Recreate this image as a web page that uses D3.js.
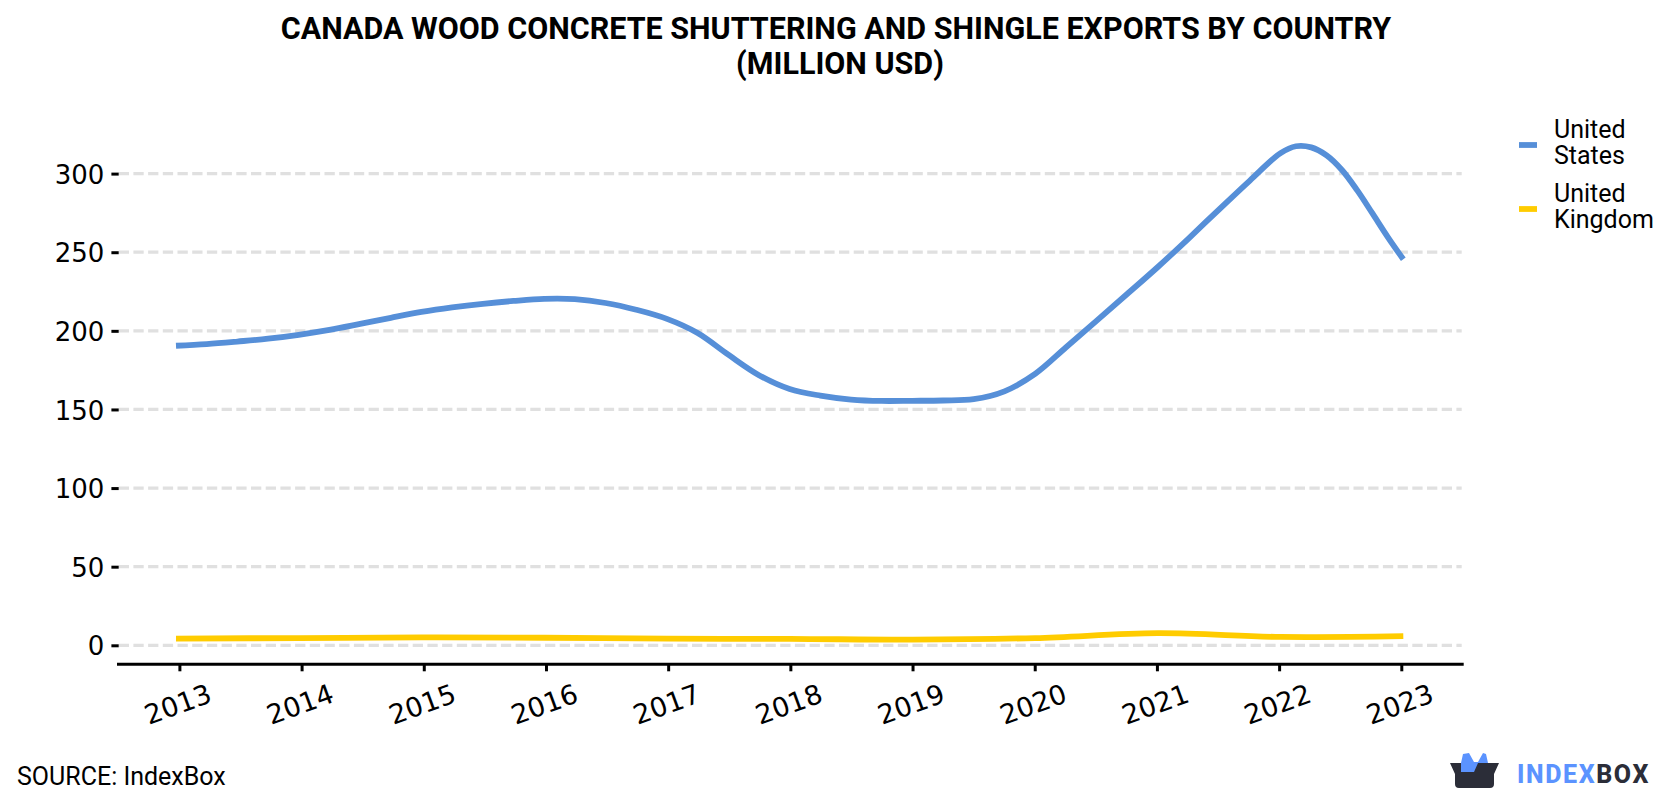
<!DOCTYPE html>
<html><head><meta charset="utf-8">
<script src="https://cdn.jsdelivr.net/npm/d3@7/dist/d3.min.js"></script>
<style>
html,body{margin:0;padding:0;background:#fff}
svg{display:block}
text{fill:#000}
</style></head><body>
<svg id="chart" width="1680" height="800"></svg>
<script>
// Export values, million USD
const years = [2013,2014,2015,2016,2017,2018,2019,2020,2021,2022,2023];
const usPositions = [2013,2013.25,2013.5,2013.75,2014,2014.25,2014.5,2014.75,2015,2015.25,2015.5,2015.75,
  2016,2016.25,2016.5,2016.75,2017,2017.25,2017.5,2017.75,2018,2018.25,2018.5,2018.75,
  2019,2019.25,2019.5,2019.75,2020,2020.25,2020.5,2020.75,2021,2021.25,2021.5,2021.75,
  2022,2022.125,2022.25,2022.375,2022.5,2022.625,2022.75,2022.875,2023];
const unitedStates = [190.5,191.6,193.2,195,197.5,200.6,204.4,208.3,212,214.9,217.2,219,
  220.3,220.1,217.7,213.4,207.6,198.6,184.8,171.8,163,158.8,156.3,155.4,
  155.5,155.7,156.5,161.5,172.6,189.4,206.3,223.4,240.6,258.7,277.3,295.6,
  313,317.4,316.7,311.6,302.3,289.3,274.5,259.5,245.5];
const ukPositions = years;
const unitedKingdom = [4.3,4.6,5,4.8,4.2,4.1,3.6,4.6,7.7,5.3,5.8];
const yTicks = [0,50,100,150,200,250,300];
const seriesNames = [["United","States"],["United","Kingdom"]];
const seriesColors = ["#568fd8","#ffcc00"];
const titleLines = [["CANADA WOOD CONCRETE SHUTTERING AND SHINGLE EXPORTS BY COUNTRY",836],["(MILLION USD)",840]];

const svg = d3.select("#chart");
const x = d3.scaleLinear().domain([2013,2023]).range([179.4,1401.3]);
const lineX = d3.scaleLinear().domain([2013,2023]).range([176,1403.3]);
const y = d3.scaleLinear().domain([0,300]).range([645.3,173.6]);
const axisY = 664.3, plotLeft = 118.7, axisLeft = 117, gridRight = 1461.7, axisRight = 1463.7;

// Title
svg.append("g").selectAll("text").data(titleLines).join("text")
  .attr("x",d=>d[1]).attr("y",(d,i)=>39+i*35)
  .attr("text-anchor","middle")
  .style("font","700 30.5px Roboto")
  .text(d=>d[0]);

// Dashed gridlines
svg.append("g").selectAll("line").data(yTicks).join("line")
  .attr("x1",plotLeft).attr("x2",gridRight)
  .attr("y1",d=>y(d)).attr("y2",d=>y(d))
  .attr("stroke","#e0e0e0").attr("stroke-width",3.2).attr("stroke-dasharray","10.3 4.4");

// Y axis: ticks and labels only
const gy = svg.append("g").attr("transform",`translate(${plotLeft},0)`)
  .call(d3.axisLeft(y).tickValues(yTicks).tickSize(7.3).tickPadding(7).tickFormat(d3.format("d")));
gy.select(".domain").remove();
gy.selectAll("line").attr("stroke","#000").attr("stroke-width",3);
gy.selectAll("text").style("font","26px 'DejaVu Sans'").attr("fill","#000").attr("dy","0.37em");

// X axis with slanted year labels
const gx = svg.append("g").attr("transform",`translate(0,${axisY})`)
  .call(d3.axisBottom(x).tickValues(years).tickSize(7).tickFormat(d3.format("d")));
gx.select(".domain").attr("d",`M${axisLeft},0H${axisRight}`).attr("stroke","#000").attr("stroke-width",3);
gx.selectAll("line").attr("stroke","#000").attr("stroke-width",3);
gx.selectAll("text")
  .style("font","27px 'DejaVu Sans'").attr("fill","#000")
  .attr("text-anchor","middle")
  .attr("transform",d=>`translate(-2,40) rotate(-20)`).attr("y",0).attr("dy","0.35em");

// Series lines
const line = d3.line().x(d=>lineX(d[0])).y(d=>y(d[1])).curve(d3.curveCatmullRom.alpha(0.5));
const seriesData = [d3.zip(usPositions,unitedStates), d3.zip(ukPositions,unitedKingdom)];
svg.append("g").selectAll("path").data(seriesData).join("path")
  .attr("d",line).attr("fill","none")
  .attr("stroke",(d,i)=>seriesColors[i]).attr("stroke-width",5.8);

// Legend
const legend = svg.append("g").selectAll("g").data(seriesNames).join("g")
  .attr("transform",(d,i)=>`translate(0,${145+i*64})`);
legend.append("line").attr("x1",1519).attr("x2",1537)
  .attr("stroke",(d,i)=>seriesColors[i]).attr("stroke-width",5.8);
legend.append("text").attr("x",1554).attr("y",-7).style("font","25px Roboto").text(d=>d[0]);
legend.append("text").attr("x",1554).attr("y",19).style("font","25px Roboto").text(d=>d[1]);

// Source note
svg.append("text").attr("x",17).attr("y",785).style("font","25px Roboto").text("SOURCE: IndexBox");

// Brand mark and wordmark
const brand = svg.append("g");
brand.append("path").attr("fill","#2b2d38")
  .attr("d","M1450,763H1499L1494,774V784Q1494,788 1490,788H1459Q1455,788 1455,784V774Z");
brand.append("path").attr("fill","#5b93ff")
  .attr("d","M1461,763L1463,754L1469,753L1474,762L1478,762L1483,753L1486,754L1488,763L1478,763L1474,772H1461Z");
brand.append("text").attr("x",1517).attr("y",783)
  .style("font","800 25px Roboto").style("letter-spacing","1.6px")
  .call(t=>{t.append("tspan").style("fill","#5b93ff").text("INDEX");
            t.append("tspan").style("fill","#2b2d38").text("BOX");});
</script>
</body></html>
